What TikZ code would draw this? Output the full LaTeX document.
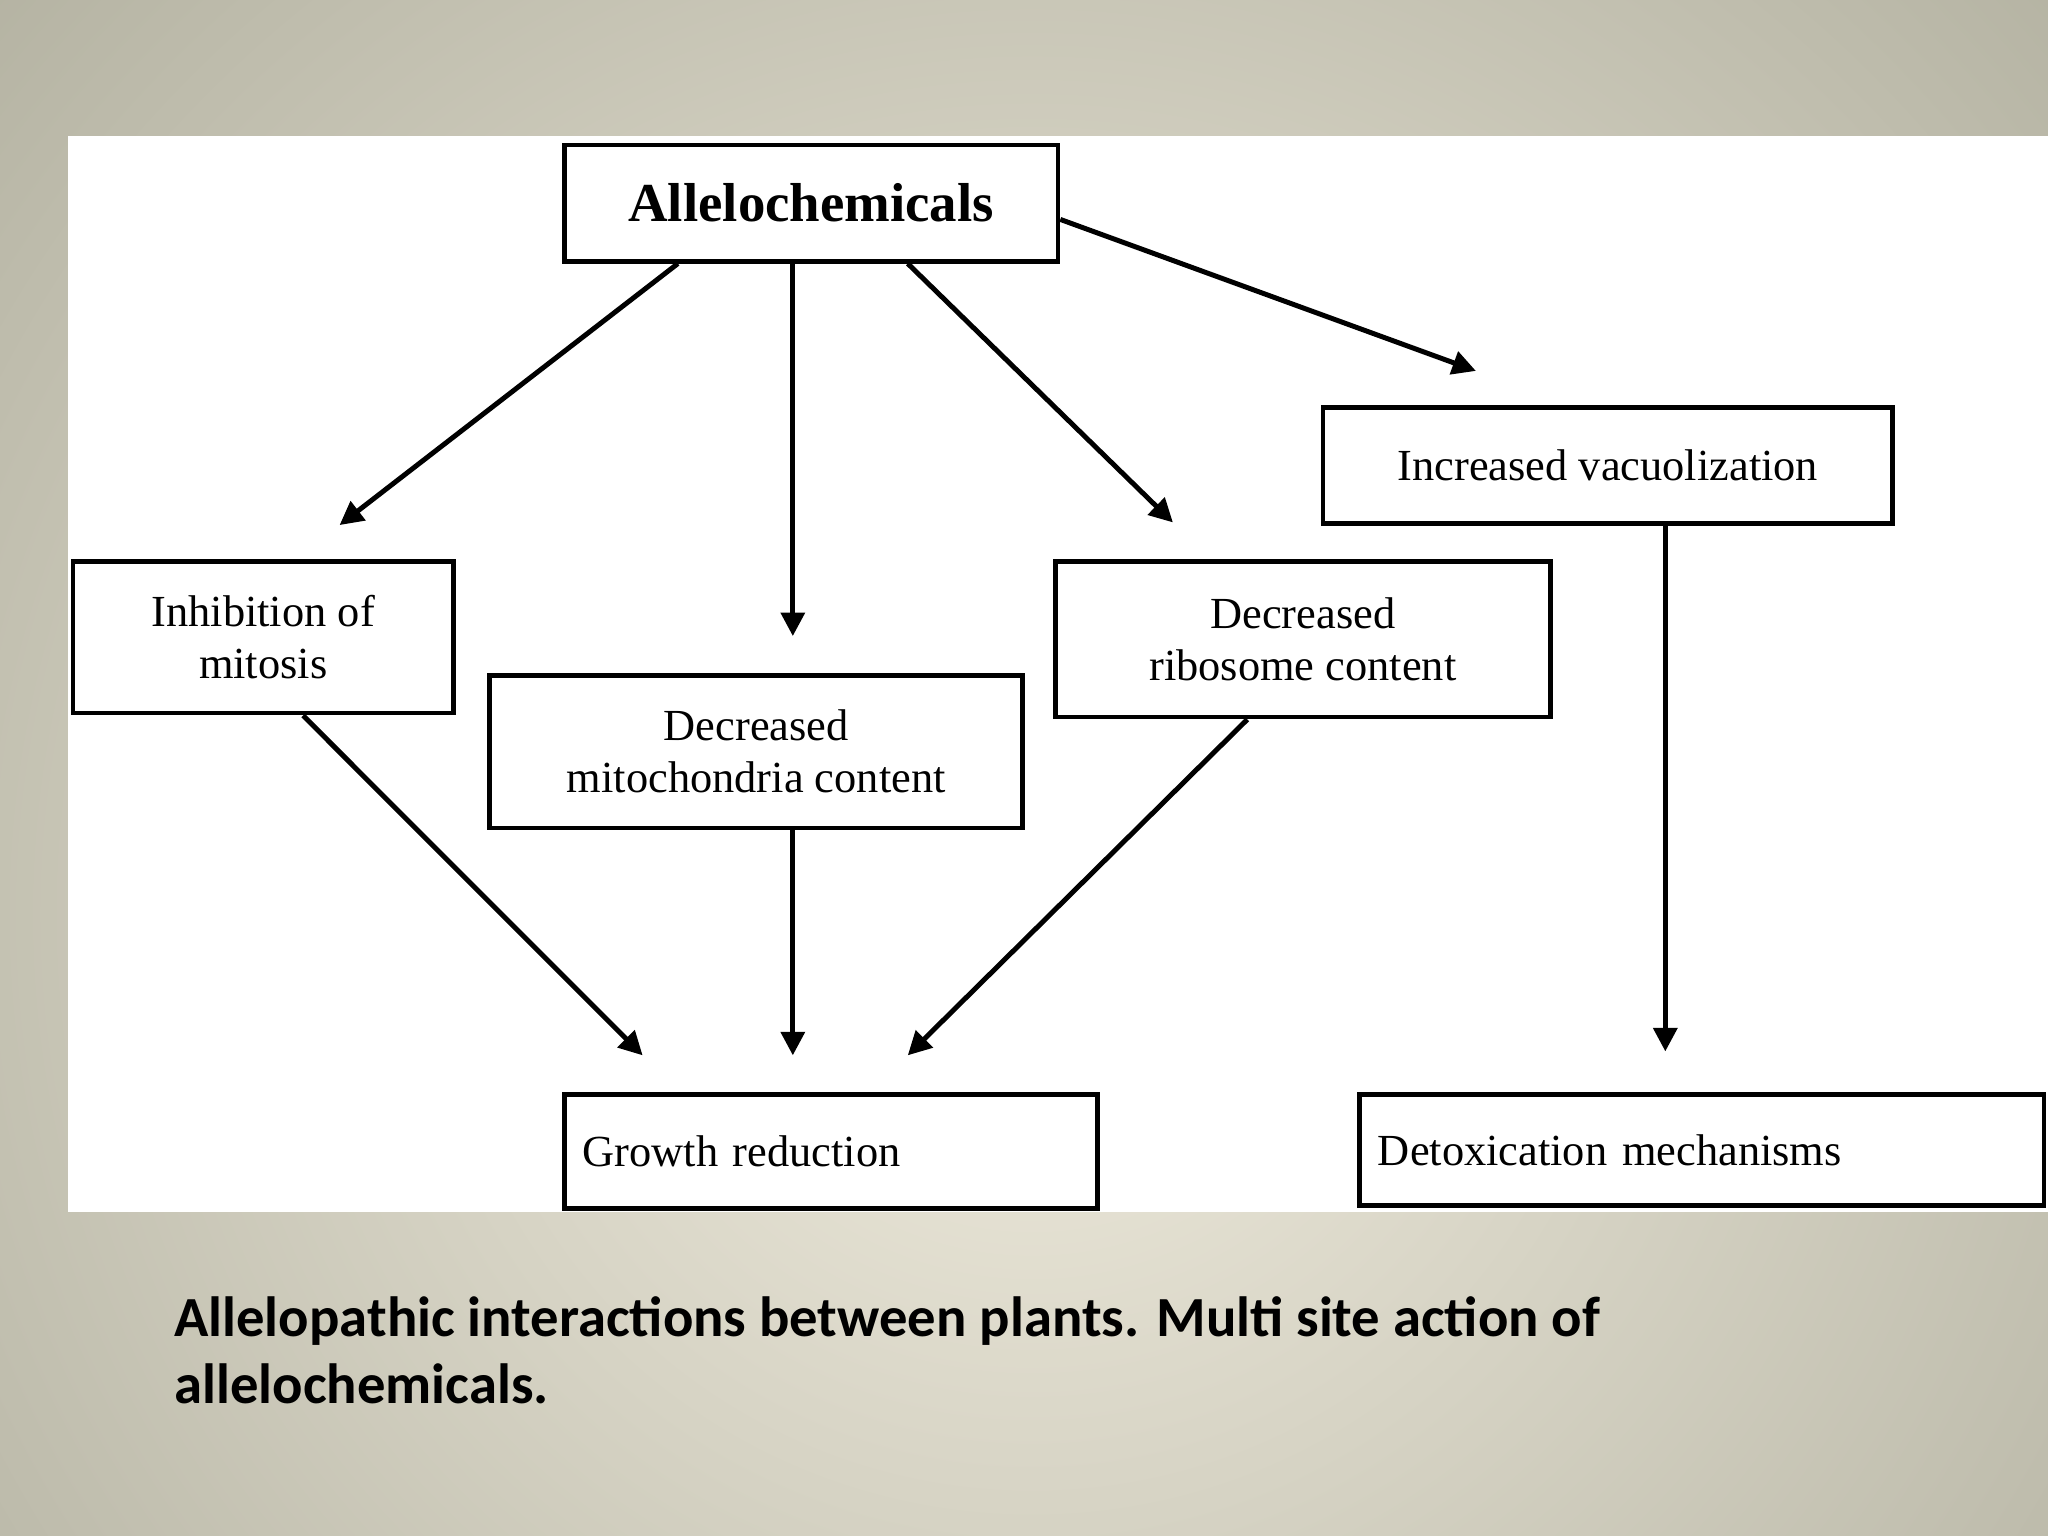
\documentclass[tikz,border=0pt]{standalone}
\usepackage{fontspec}
\setmainfont{Liberation Serif}
\newfontfamily\capfont{Carlito}
\usetikzlibrary{arrows.meta}
\begin{document}
\begin{tikzpicture}[x=0.5pt,y=-0.5pt,
  box/.style={draw=black,line width=1.8pt,fill=white,inner sep=0pt,font=\fontsize{17}{20}\selectfont,align=center},
  arr/.style={line width=1.9pt,-{Triangle[length=9pt,width=9pt]}}]
\useasboundingbox (0,0) rectangle (1568,1176);
\fill[color={rgb,255:red,150;green,150;blue,132}] (0,0) rectangle (1568,1176);
\begin{scope}
\clip (0,0) rectangle (1568,1176);
\shade[inner color={rgb,255:red,240;green,236;blue,222},outer color={rgb,255:red,140;green,140;blue,122}] (790,700) circle (1800);
\end{scope}
\fill[white] (52,104) rectangle (1568,928);
\node[box,minimum width=189pt,minimum height=44.5pt,font=\fontsize{21}{22}\selectfont\bfseries] (a) at (621,155.5) {Allelochemicals};
\node[box,minimum width=218pt,minimum height=44.5pt] (v) at (1231,356.5) {Increased vacuolization};
\node[box,minimum width=145.5pt,minimum height=58pt] (m) at (201.5,488) {Inhibition of\\mitosis};
\node[box,minimum width=204pt,minimum height=58.5pt] (c) at (579,575.5) {Decreased\\mitochondria content};
\node[box,minimum width=189.5pt,minimum height=59.5pt] (r) at (997.5,489.5) {Decreased\\ribosome content};
\node[box,minimum width=204pt,minimum height=43.5pt,text width=190pt,align=left] (g) at (636,881.5) {Growth reduction};
\node[box,minimum width=262pt,minimum height=42.5pt,text width=248pt,align=left] (d) at (1303,880.5) {Detoxication mechanisms};
\coordinate (e1) at (260,402);
\coordinate (e2) at (607,487);
\coordinate (e3) at (898,400);
\coordinate (e4) at (1130,284);
\coordinate (e5) at (1275,805);
\coordinate (e6) at (492,808);
\coordinate (e7) at (607,808);
\coordinate (e8) at (695,808);
\draw[arr] (a.south -| 519,0) -- (e1);
\draw[arr] (a.south -| 607,0) -- (e2);
\draw[arr] (a.south -| 695,0) -- (e3);
\draw[arr] (a.east |- 0,168) -- (e4);
\draw[arr] (v.south -| 1275,0) -- (e5);
\draw[arr] (m.south -| 232,0) -- (e6);
\draw[arr] (c.south -| 607,0) -- (e7);
\draw[arr] (r.south -| 955,0) -- (e8);
\node[anchor=north west,align=left,font=\capfont\bfseries\fontsize{21.7}{26}\selectfont,inner sep=0pt] (cap) at (133,992) {Allelopathic interactions between plants. Multi site action of\\allelochemicals.};
\end{tikzpicture}
\end{document}
